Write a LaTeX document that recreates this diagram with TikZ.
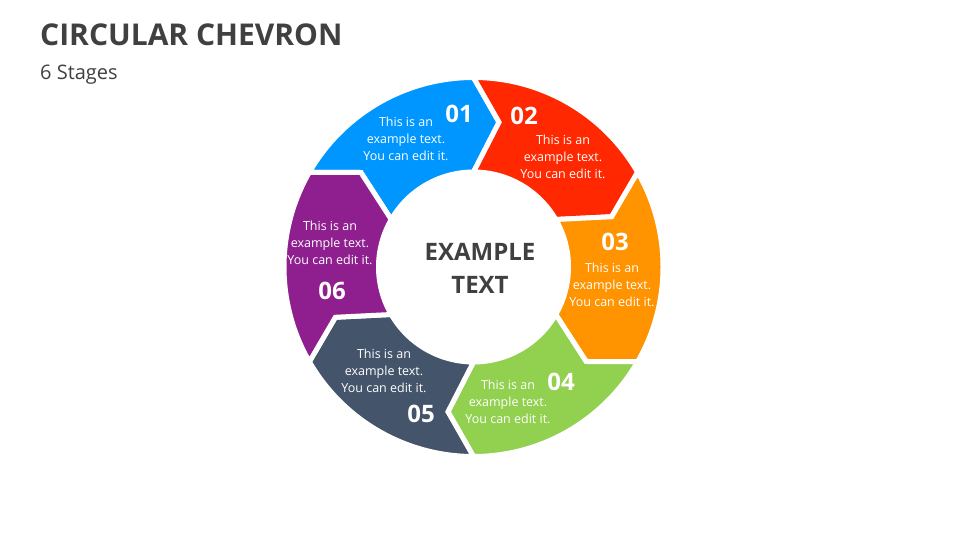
\documentclass[tikz,border=0pt]{standalone}
\usepackage{fontspec}
\setmainfont{Open Sans}
\definecolor{cblue}{RGB}{0,150,255}
\definecolor{cred}{RGB}{255,40,0}
\definecolor{corange}{RGB}{255,147,0}
\definecolor{cgreen}{RGB}{146,208,80}
\definecolor{cslate}{RGB}{68,84,106}
\definecolor{cpurple}{RGB}{143,31,143}
\definecolor{cdark}{RGB}{64,64,64}
\begin{document}
\begin{tikzpicture}[x=1pt,y=1pt]
\useasboundingbox (0,0) rectangle (960,540);
\fill[white] (0,0) rectangle (960,540);
\tikzset{
  seg/.style={fill=#1, draw=white, line width=5pt, line join=miter},
  body/.style={text=white, align=center, inner sep=0pt, font=\fontsize{12.5}{17}\selectfont},
  num/.style={text=white, inner sep=0pt, font=\bfseries\fontsize{24}{28}\selectfont},
}
\coordinate (C) at (473.5,273);
\def\Ro{189.5}
\def\Ri{95}
\def\Rm{147}
\def\dl{10}
\foreach \s/\c in {150/cblue, 90/cred, 30/corange, -30/cgreen, -90/cslate, -150/cpurple} {
  \pgfmathsetmacro\e{\s-60}
  \pgfmathsetmacro\et{\e-\dl}
  \pgfmathsetmacro\st{\s-\dl}
  \path[seg=\c] ([shift={(C)}]\s:\Ro) arc[start angle=\s, end angle=\e, radius=\Ro]
    -- ([shift={(C)}]\et:\Rm) -- ([shift={(C)}]\e:\Ri)
    arc[start angle=\e, end angle=\s, radius=\Ri]
    -- ([shift={(C)}]\st:\Rm) -- cycle;
}
% title
\node[anchor=base west, inner sep=0pt, text=cdark, font=\bfseries\fontsize{30}{36}\selectfont] (title) at (40,494) {CIRCULAR CHEVRON};
\node[anchor=base west, inner sep=0pt, text=cdark, font=\fontsize{20}{24}\selectfont] (sub) at (40,460) {6 Stages};
% centre
\node[align=center, inner sep=0pt, text=cdark, font=\bfseries\fontsize{24}{33}\selectfont] (ctr) at (480,271.5) {EXAMPLE\\TEXT};
% numbers
\node[num] (n1) at (459,426) {01};
\node[num] (n2) at (524,424) {02};
\node[num] (n3) at (615,298) {03};
\node[num] (n4) at (561,158) {04};
\node[num] (n5) at (421,126) {05};
\node[num] (n6) at (332,249) {06};
% texts
\node[body] (t1) at (406,401) {This is an\\example text.\\You can edit it.};
\node[body] (t2) at (563,383) {This is an\\example text.\\You can edit it.};
\node[body] (t3) at (612,255) {This is an\\example text.\\You can edit it.};
\node[body] (t4) at (508,138) {This is an\\example text.\\You can edit it.};
\node[body] (t5) at (384,169) {This is an\\example text.\\You can edit it.};
\node[body] (t6) at (330,297) {This is an\\example text.\\You can edit it.};
\end{tikzpicture}
\end{document}
